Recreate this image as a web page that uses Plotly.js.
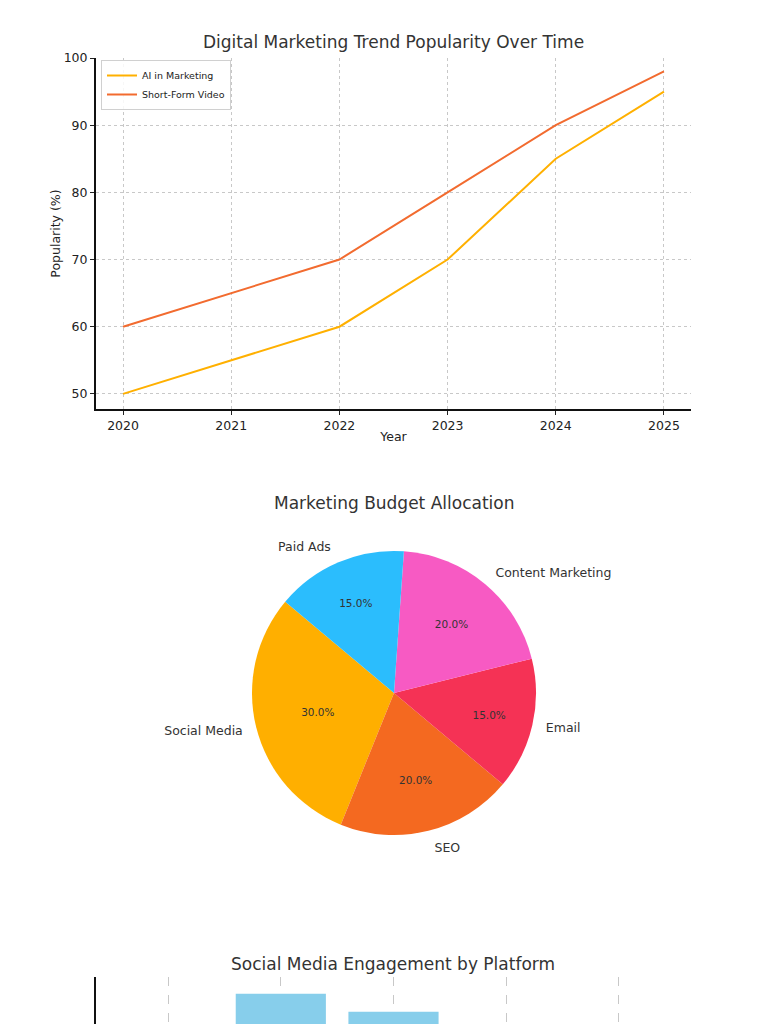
<!DOCTYPE html>
<html>
<head>
<meta charset="utf-8">
<script src="https://cdn.plot.ly/plotly-3.0.1.min.js"></script>
<style>
  html, body { margin: 0; padding: 0; overflow: hidden; background: #fff; }
  #fig { width: 768px; height: 1400px; }
</style>
</head>
<body>
<div id="fig"></div>
<script>
// trend data
const years = [2020, 2021, 2022, 2023, 2024, 2025];
const aiMarketing = [50, 55, 60, 70, 85, 95];
const shortVideo = [60, 65, 70, 80, 90, 98];

// budget data
const budgetLabels = ["Social Media", "SEO", "Email", "Content Marketing", "Paid Ads"];
const budgetShares = [30, 20, 15, 20, 15];
const budgetColors = ["#FFAF00", "#F46920", "#F53255", "#F75AC3", "#2BBDFD"];

// engagement data (only the tops of two bars are visible in the picture)
const platforms = ["Facebook", "Instagram", "TikTok", "LinkedIn", "Twitter"];
const engagement = [48, 56, 53, 40, 35];

const H = 1400, W = 768;
const fy = (px) => 1 - px / H;
const fx = (px) => px / W;

const font = "DejaVu Sans, sans-serif";
const grid = "#c8c8c8";

const axisCommon = {
  showline: true,
  linecolor: "#111",
  linewidth: 2,
  ticks: "outside",
  ticklen: 4,
  tickwidth: 1,
  tickcolor: "#222",
  showgrid: true,
  gridcolor: grid,
  griddash: "dot",
  gridwidth: 1,
  zeroline: false,
  tickfont: { family: font, size: 12.5, color: "#222" },
  mirror: false,
};

const data = [
  {
    x: years, y: aiMarketing, name: "AI in Marketing",
    type: "scatter", mode: "lines",
    line: { color: "#FFB000", width: 2 },
    xaxis: "x", yaxis: "y",
  },
  {
    x: years, y: shortVideo, name: "Short-Form Video",
    type: "scatter", mode: "lines",
    line: { color: "#F26B2F", width: 2 },
    xaxis: "x", yaxis: "y",
  },
  // slices with percentages inside
  {
    type: "pie", labels: budgetLabels, values: budgetShares,
    sort: false, direction: "counterclockwise", rotation: -158,
    marker: { colors: budgetColors, line: { width: 0 } },
    textinfo: "percent", texttemplate: "%{percent:.1%}",
    textposition: "inside", insidetextorientation: "horizontal",
    textfont: { family: font, size: 10.5, color: "#333" },
    domain: { x: [fx(252), fx(536)], y: [fy(835), fy(551)] },
    showlegend: false, hoverinfo: "label+percent",
  },
  // same slices, transparent and a little larger, carrying the outside labels
  {
    type: "pie", labels: budgetLabels, values: budgetShares,
    sort: false, direction: "counterclockwise", rotation: -158,
    marker: { colors: budgetColors.map(() => "rgba(0,0,0,0)"), line: { width: 0 } },
    textinfo: "label", textposition: "outside",
    textfont: { family: font, size: 12.5, color: "#333" },
    outsidetextfont: { family: font, size: 12.5, color: "#333" },
    domain: { x: [fx(242), fx(546)], y: [fy(845), fy(541)] },
    showlegend: false, hoverinfo: "skip",
  },
  {
    type: "bar", x: platforms, y: engagement, width: 0.8,
    marker: { color: "#87CEEB" },
    xaxis: "x2", yaxis: "y2", showlegend: false,
  },
];

const layout = {
  width: W,
  height: H,
  margin: { l: 0, r: 0, t: 0, b: 0 },
  paper_bgcolor: "#fff",
  plot_bgcolor: "#fff",
  font: { family: font, color: "#222" },
  xaxis: {
    ...axisCommon,
    domain: [fx(96), fx(691)],
    anchor: "y",
    range: [2019.75, 2025.25],
    dtick: 1,
    tickformat: "d",
    title: { text: "Year", font: { family: font, size: 12.5, color: "#222" }, standoff: 0 },
  },
  yaxis: {
    ...axisCommon,
    domain: [fy(409), fy(58)],
    anchor: "x",
    range: [47.75, 100],
    dtick: 10,
    tick0: 50,
    title: { text: "Popularity (%)", font: { family: font, size: 12.5, color: "#222" }, standoff: 0 },
  },
  xaxis2: {
    ...axisCommon,
    domain: [fx(96), fx(691)],
    anchor: "y2",
    range: [-0.64, 4.64],
    griddash: "dash",
    layer: "above traces",
  },
  yaxis2: {
    ...axisCommon,
    domain: [fy(1330), fy(977)],
    anchor: "x2",
    range: [0, 58.8],
    dtick: 10,
    showgrid: false,
  },
  showlegend: true,
  legend: {
    x: fx(101), y: fy(60), xanchor: "left", yanchor: "top",
    xref: "paper", yref: "paper",
    bgcolor: "rgba(255,255,255,0.85)",
    bordercolor: "#d0d0d0", borderwidth: 1,
    font: { family: font, size: 9.5, color: "#222" },
    itemwidth: 30, tracegroupgap: 0,
  },
  annotations: [
    { text: "Digital Marketing Trend Popularity Over Time", x: fx(393), y: fy(42),
      xref: "paper", yref: "paper", yanchor: "middle", showarrow: false,
      font: { family: font, size: 17, color: "#333" } },
    { text: "Marketing Budget Allocation", x: fx(394), y: fy(503),
      xref: "paper", yref: "paper", yanchor: "middle", showarrow: false,
      font: { family: font, size: 17, color: "#333" } },
    { text: "Social Media Engagement by Platform", x: fx(393), y: fy(964),
      xref: "paper", yref: "paper", yanchor: "middle", showarrow: false,
      font: { family: font, size: 17, color: "#333" } },
  ],
};

Plotly.newPlot("fig", data, layout, { displayModeBar: false, staticPlot: true });
</script>
</body>
</html>
